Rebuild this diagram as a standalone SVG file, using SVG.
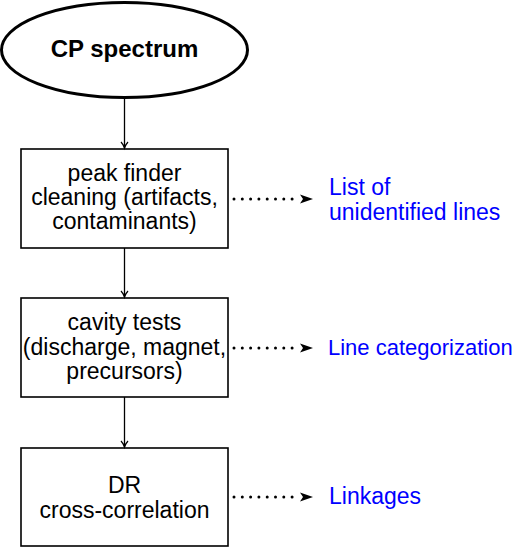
<svg xmlns="http://www.w3.org/2000/svg" width="520" height="547" viewBox="0 0 520 547">
<style>
.t{font-family:"Liberation Sans",Arial,sans-serif;font-size:23px;fill:#000;text-anchor:middle}
.b{fill:#0000ff;font-family:"Liberation Sans",Arial,sans-serif;font-size:23px}
.box{fill:#fff;stroke:#000;stroke-width:1.6}
.c{stroke:#000;stroke-width:1.3;fill:none}
.d{stroke:#000;stroke-width:3;fill:none;stroke-dasharray:0 8.3;stroke-linecap:round}
</style>
<defs>
<marker id="ah" markerWidth="10" markerHeight="10" refX="7" refY="5" orient="auto" markerUnits="userSpaceOnUse">
<path d="M1,1.5 Q4,4.2 7,5 Q4,5.8 1,8.5" fill="none" stroke="#000" stroke-width="1.2"/>
</marker>
</defs>
<g id="n0">
<ellipse cx="124.5" cy="50" rx="123" ry="47.5" fill="#fff" stroke="#000" stroke-width="3"/>
<text x="124.5" y="57" class="t" style="font-weight:bold;font-size:24px">CP spectrum</text>
</g>
<g id="n1">
<rect class="box" x="21" y="149" width="207" height="99"/>
<text class="t" x="124.5" y="181">peak finder</text>
<text class="t" x="124.5" y="205">cleaning (artifacts,</text>
<text class="t" x="124.5" y="229">contaminants)</text>
</g>
<g id="n2">
<rect class="box" x="21" y="298" width="207" height="99"/>
<text class="t" x="124.5" y="330">cavity tests</text>
<text class="t" x="124.5" y="355">(discharge, magnet,</text>
<text class="t" x="124.5" y="379">precursors)</text>
</g>
<g id="n3">
<rect class="box" x="21" y="448" width="207" height="98"/>
<text class="t" x="124.5" y="493">DR</text>
<text class="t" x="124.5" y="518">cross-correlation</text>
</g>
<g id="o1"><text class="b" x="329" y="195">List of</text><text class="b" x="329" y="220">unidentified lines</text></g>
<g id="o2"><text class="b" x="328" y="355" style="font-size:22px">Line categorization</text></g>
<g id="o3"><text class="b" x="329" y="504">Linkages</text></g>
<g id="connectors">
<line class="c" x1="124.5" y1="97.5" x2="124.5" y2="148" marker-end="url(#ah)"/>
<line class="c" x1="124.5" y1="248" x2="124.5" y2="297" marker-end="url(#ah)"/>
<line class="c" x1="124.5" y1="397" x2="124.5" y2="447" marker-end="url(#ah)"/>
<line class="d" x1="234" y1="199" x2="299" y2="199"/>
<path d="M300,194.5 L313,199 L300,203.5 L303,199 Z" fill="#000"/>
<line class="d" x1="234" y1="348" x2="299" y2="348"/>
<path d="M300,343.5 L313,348 L300,352.5 L303,348 Z" fill="#000"/>
<line class="d" x1="234" y1="497" x2="299" y2="497"/>
<path d="M300,492.5 L313,497 L300,501.5 L303,497 Z" fill="#000"/>
</g>
</svg>
